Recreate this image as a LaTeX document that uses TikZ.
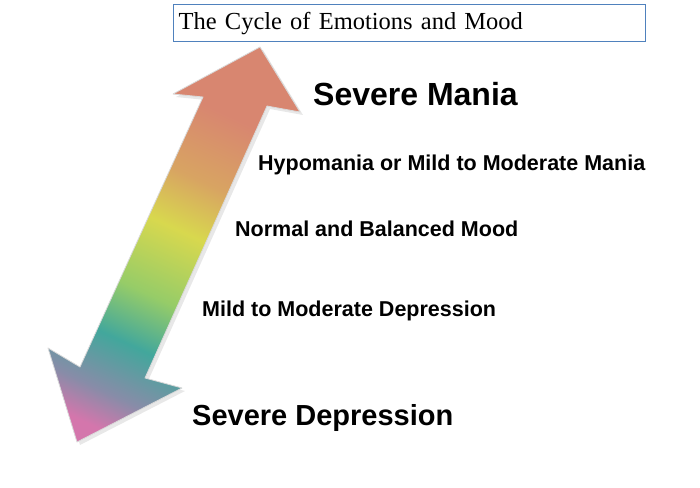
\documentclass[tikz,border=0pt]{standalone}
\usepackage{fontspec}
\setmainfont{Liberation Serif}
\setsansfont{Liberation Sans}
\usepackage{tikz}
\usetikzlibrary{positioning}
\usetikzlibrary{calc}
\definecolor{boxBlue}{RGB}{79,129,189}
\definecolor{moodPink}{RGB}{212,118,172}
\definecolor{moodGrey}{RGB}{136,140,168}
\definecolor{moodTeal}{RGB}{66,167,156}
\definecolor{moodGreen}{RGB}{150,204,104}
\definecolor{moodYellow}{RGB}{216,216,78}
\definecolor{moodOrange}{RGB}{216,164,98}
\definecolor{moodSalmon}{RGB}{216,134,112}
\pgfdeclareverticalshading{moodShade}{100bp}{color(0bp)=(moodPink); color(25bp)=(moodPink); color(28bp)=(moodPink); color(32bp)=(moodGrey); color(38bp)=(moodTeal); color(44bp)=(moodGreen); color(52bp)=(moodYellow); color(58bp)=(moodOrange); color(66bp)=(moodSalmon); color(75bp)=(moodSalmon); color(100bp)=(moodSalmon)}
\tikzstyle{titleBox} = [rectangle, draw=boxBlue, line width=1.3pt, anchor=north west, minimum width=472pt, minimum height=37pt, text width=462pt, inner xsep=4pt, align=left, font=\fontsize{24.5}{27}\selectfont]
\tikzstyle{moodLabel} = [anchor=base west, inner sep=0pt, font=\sffamily\bfseries\fontsize{21.5}{24}\selectfont]
\tikzstyle{severeLabel} = [moodLabel, font=\sffamily\bfseries\fontsize{32}{36}\selectfont]

\begin{document}
\begin{tikzpicture}[x=1pt, y=-1pt]
	\useasboundingbox (0,0) rectangle (700,487);

	% soft shadow of the double arrow
	\fill[gray!35, opacity=0.5, shift={(3,3)}]
		(77,442) -- (48,348) -- (80,367) -- (203,97) -- (173,94) -- (260,47)
		-- (300,112) -- (267,106) -- (145,378) -- (182,388) -- cycle;

	% the double arrow, the colours run along its slope
	\begin{scope}
		\clip (77,442) -- (48,348) -- (80,367) -- (203,97) -- (173,94) -- (260,47)
			-- (300,112) -- (267,106) -- (145,378) -- (182,388) -- cycle;
		\begin{scope}[transform canvas={rotate around={-24.86:(77,442)}}]
			\shade[shading=moodShade] (-10,447) rectangle (170,2);
		\end{scope}
	\end{scope}
	\draw[white!70!gray, line width=0.8pt, line join=round]
		(77,442) -- (48,348) -- (80,367) -- (203,97) -- (173,94) -- (260,47)
		-- (300,112) -- (267,106) -- (145,378) -- (182,388) -- cycle;

	\node[titleBox] at (173,4) (Title){The Cycle of Emotions and Mood};

	\node[severeLabel] at (313,105) (Severe-Mania){Severe Mania};

	\node[moodLabel] at ([xshift=-55pt, yshift=-65pt]Severe-Mania.base west) (Hypomania){Hypomania or Mild to Moderate Mania};

	\node[moodLabel] at ([xshift=-23pt, yshift=-66pt]Hypomania.base west) (Normal-Mood){Normal and Balanced Mood};

	\node[moodLabel] at ([xshift=-33pt, yshift=-80pt]Normal-Mood.base west) (Mild-Depression){Mild to Moderate Depression};

	\node[severeLabel, font=\sffamily\bfseries\fontsize{29}{33}\selectfont] at ([xshift=-10pt, yshift=-109pt]Mild-Depression.base west) (Severe-Depression){Severe Depression};

\end{tikzpicture}
\end{document}
